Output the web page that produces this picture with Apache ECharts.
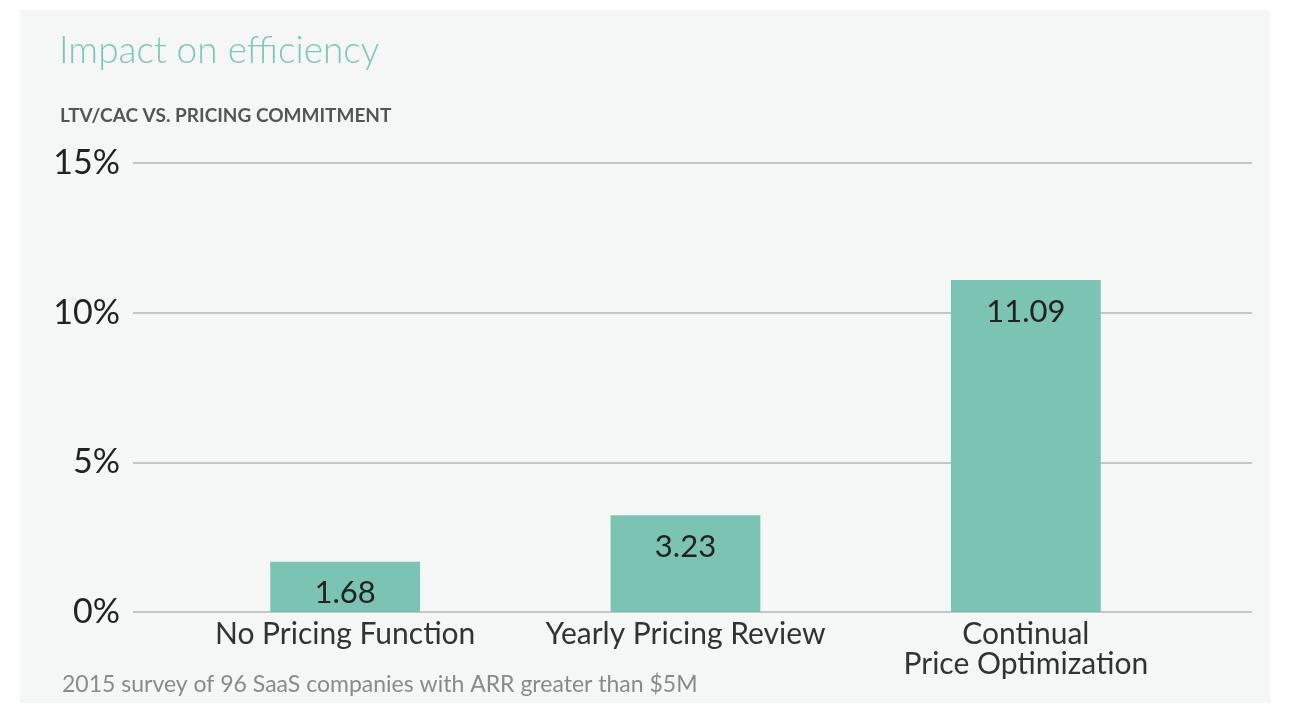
<!DOCTYPE html>
<html>
<head>
<meta charset="utf-8">
<script src="https://cdn.jsdelivr.net/npm/echarts@6/dist/echarts.min.js"></script>
<style>
  html, body { margin: 0; padding: 0; background: #fff; }
  #root { width: 1290px; height: 724px; }
</style>
</head>
<body>
<div id="root"></div>
<script>
var categories = ['No Pricing Function', 'Yearly Pricing Review', 'Continual\nPrice Optimization'];
var values = [1.68, 3.23, 11.09];
var yTicks = [0, 5, 10, 15];

var FONT = 'Lato, "Open Sans", sans-serif';
var chart = echarts.init(document.getElementById('root'));

var option = {
    backgroundColor: '#ffffff',
    animation: false,
    graphic: [
        {
            type: 'rect',
            z: -10,
            shape: { x: 20, y: 10, width: 1250, height: 693 },
            style: { fill: '#f5f6f6' }
        },
        {
            type: 'text',
            left: 59, top: 33,
            style: { text: 'Impact on efficiency', fill: '#7fc8b7', font: '300 37px ' + FONT }
        },
        {
            type: 'text',
            left: 60, top: 106,
            style: { text: 'LTV/CAC VS. PRICING COMMITMENT', fill: '#555555', font: 'bold 19px ' + FONT }
        },
        {
            type: 'text',
            left: 62, top: 673,
            style: { text: '2015 survey of 96 SaaS companies with ARR greater than $5M', fill: '#8a8a8a', font: '23px ' + FONT }
        }
    ],
    grid: [
        { left: 133, right: 38, top: 163, bottom: 112 },
        { left: 175, right: 94, top: 163, bottom: 112 }
    ],
    xAxis: [
        { gridIndex: 0, type: 'value', min: 0, max: 1, show: false },
        {
            gridIndex: 1,
            type: 'category',
            data: categories,
            axisLine: { show: false },
            axisTick: { show: false },
            axisLabel: {
                interval: 0,
                hideOverlap: false,
                color: '#333333', fontSize: 30, fontFamily: FONT, lineHeight: 30, margin: 7
            }
        }
    ],
    yAxis: [
        {
            gridIndex: 0,
            type: 'value',
            min: 0, max: 15, interval: 5,
            axisLine: { show: false },
            axisTick: { show: false },
            splitLine: { lineStyle: { color: '#c6c6c6', width: 2 } },
            axisLabel: {
                color: '#222222', fontSize: 34, fontFamily: FONT, margin: 13,
                formatter: function (v) { return yTicks.indexOf(v) >= 0 ? v + '%' : ''; }
            }
        },
        {
            gridIndex: 1,
            type: 'value',
            min: 0, max: 15, interval: 5,
            show: false
        }
    ],
    series: [
        {
            type: 'bar',
            xAxisIndex: 1,
            yAxisIndex: 1,
            data: values,
            barWidth: '44%',
            itemStyle: { color: '#7bc3b3' },
            label: {
                show: true,
                position: 'insideTop',
                distance: 16,
                color: '#222222',
                fontSize: 31,
                fontFamily: FONT,
                formatter: function (p) { return p.value.toFixed(2); }
            }
        }
    ]
};
chart.setOption(option);
</script>
</body>
</html>
